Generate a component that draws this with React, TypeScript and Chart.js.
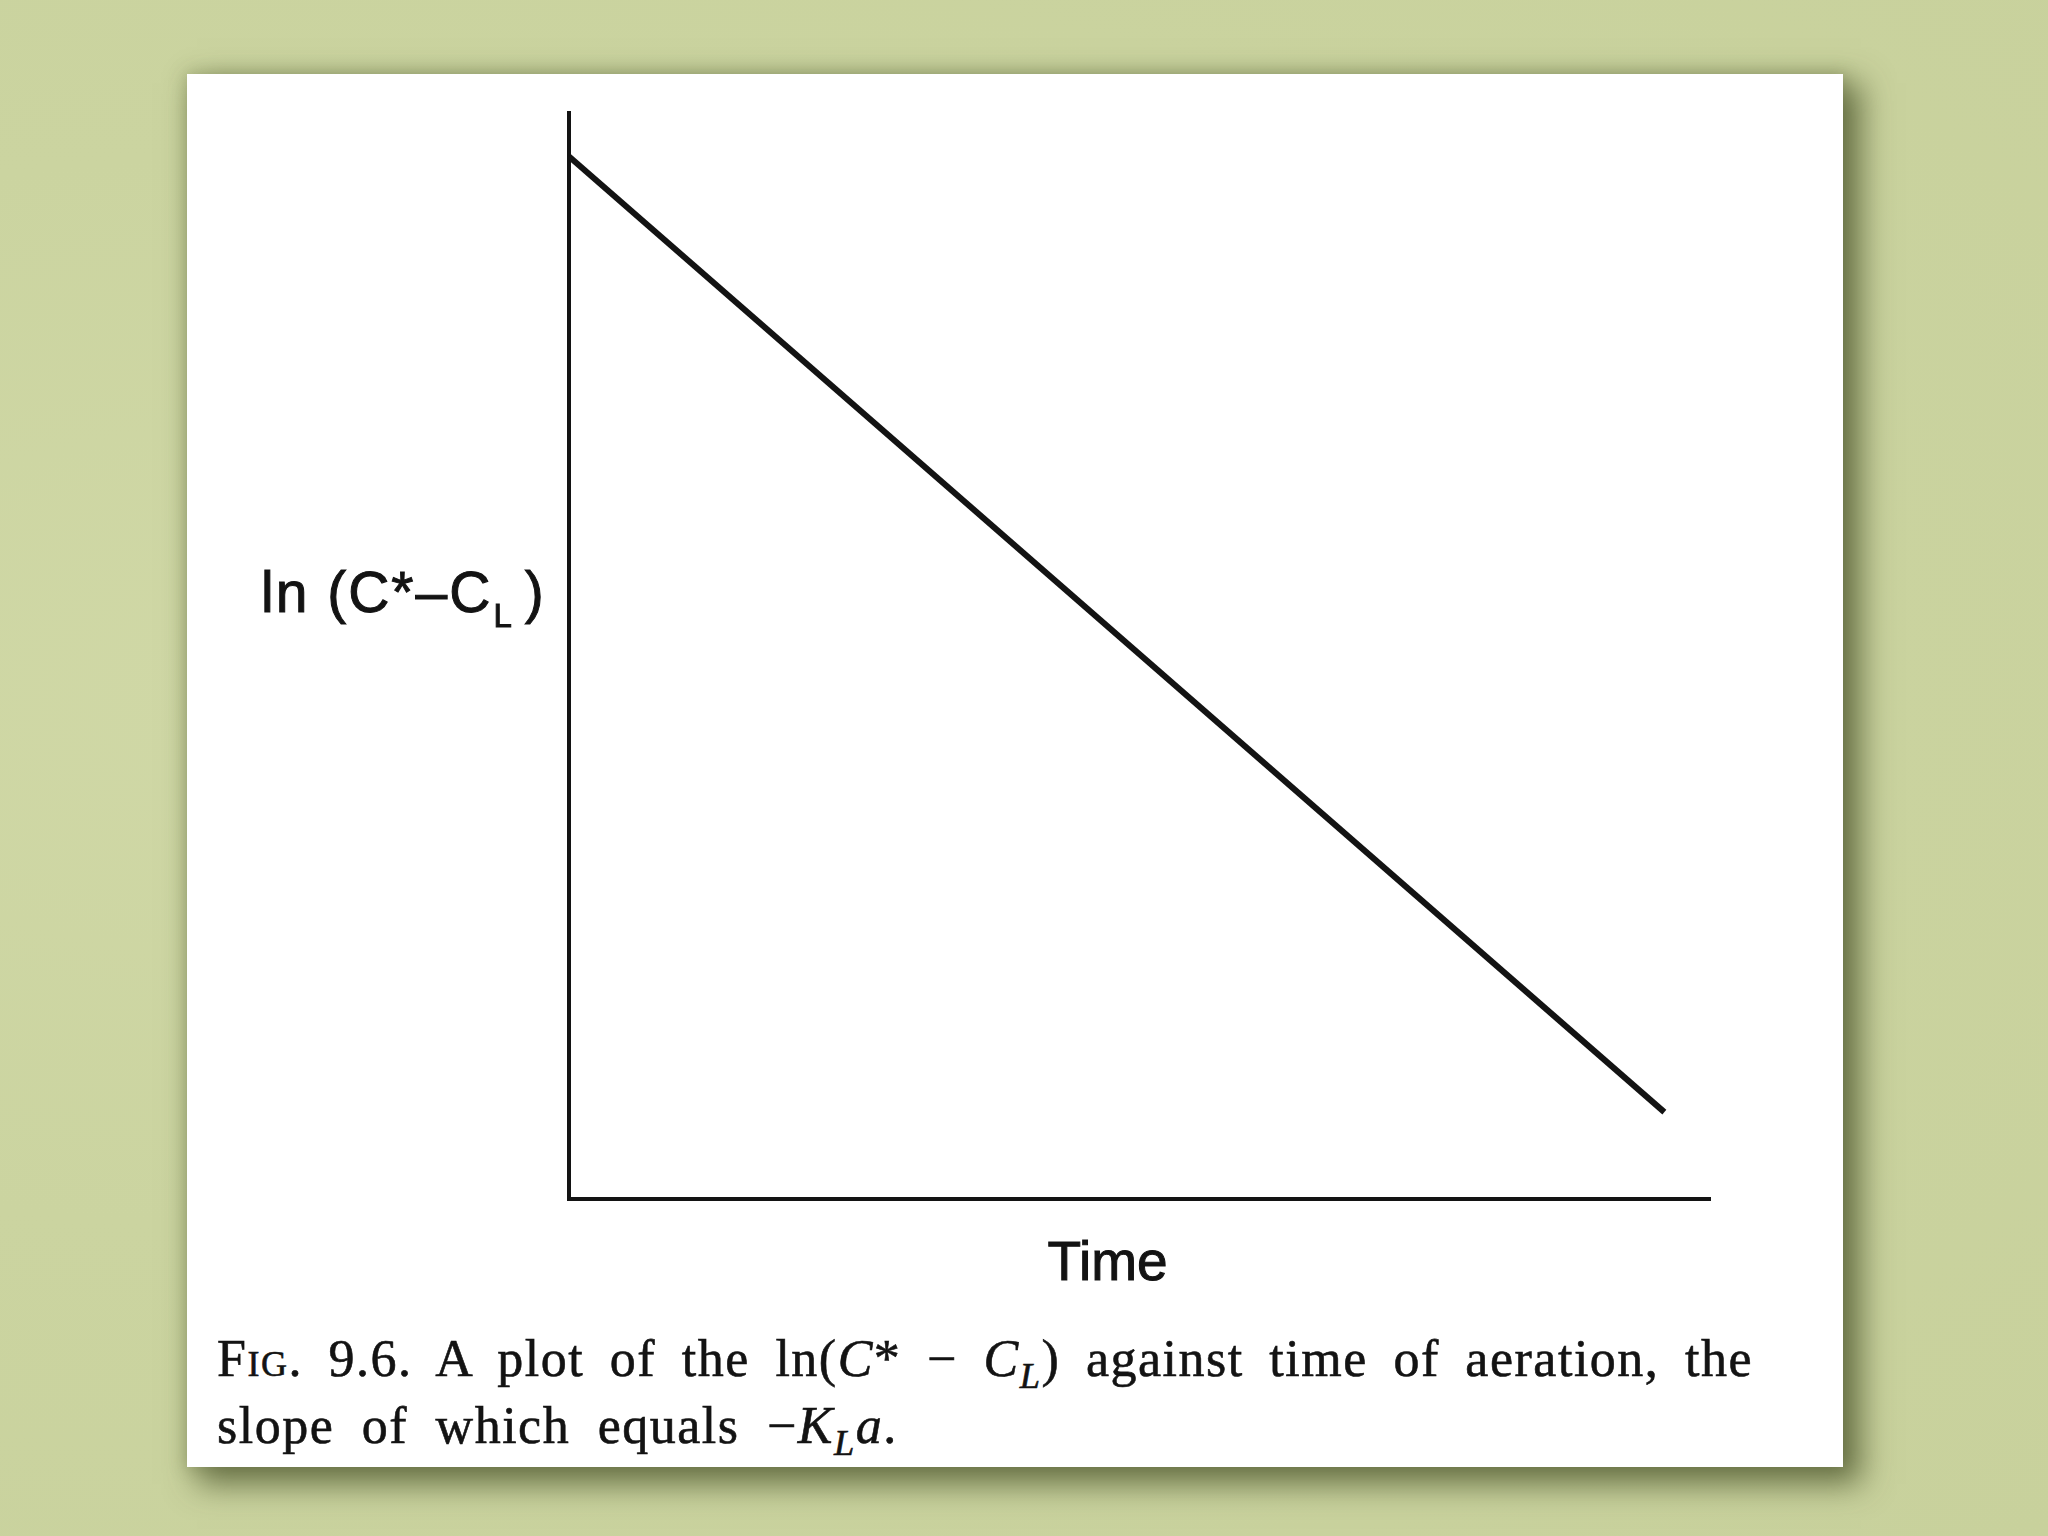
import React, { useEffect, useRef } from "react";
import { Chart, registerables } from "chart.js";

Chart.register(...registerables);

// ---- data ----
const timeValues = [0, 9.6];
const lnValues = [9.6, 0.8];
const xAxisRange = [0, 10];
const yAxisRange = [0, 10];

// ---- text ----
const yLabelMain = "ln (C*–C";
const yLabelSub = "L";
const yLabelEnd = ")";
const xLabel = "Time";

const INK = "#131313";
const SANS = "'Liberation Sans', Arial, Helvetica, sans-serif";
const SERIF = "'Liberation Serif', 'Times New Roman', Times, serif";

const CANVAS_W = 1656;
const CANVAS_H = 1250;

function boldText(ctx: CanvasRenderingContext2D, text: string, x: number, y: number) {
  ctx.fillText(text, x, y);
  ctx.strokeText(text, x, y);
}

const labelsPlugin = {
  id: "figureLabels",
  afterDraw(chart: any) {
    const { ctx, chartArea } = chart;
    ctx.save();
    ctx.fillStyle = INK;
    ctx.strokeStyle = INK;
    ctx.lineWidth = 1;
    ctx.textBaseline = "alphabetic";
    ctx.textAlign = "left";
    const midY = (chartArea.top + chartArea.bottom) / 2;
    const baseY = midY - 44;
    let x = chartArea.left - 308;
    (ctx as any).letterSpacing = "2px";
    ctx.font = `57px ${SANS}`;
    boldText(ctx, yLabelMain, x, baseY);
    x += ctx.measureText(yLabelMain).width + 1;
    (ctx as any).letterSpacing = "0px";
    ctx.font = `33px ${SANS}`;
    boldText(ctx, yLabelSub, x, baseY + 15);
    x += ctx.measureText(yLabelSub).width + 13;
    ctx.font = `57px ${SANS}`;
    boldText(ctx, yLabelEnd, x, baseY);

    ctx.font = `55px ${SANS}`;
    ctx.textAlign = "center";
    boldText(
      ctx,
      xLabel,
      chartArea.left + 0.472 * (chartArea.right - chartArea.left),
      chartArea.bottom + 81
    );
    ctx.restore();
  },
};

function FigureChart() {
  const ref = useRef<HTMLCanvasElement | null>(null);
  useEffect(() => {
    if (!ref.current) return;
    const chart = new Chart(ref.current, {
      type: "scatter",
      data: {
        datasets: [
          {
            data: timeValues.map((t, i) => ({ x: t, y: lnValues[i] })),
            showLine: true,
            borderColor: INK,
            borderWidth: 6,
            pointRadius: 0,
            pointHoverRadius: 0,
            fill: false,
          },
        ],
      },
      options: {
        animation: false,
        responsive: false,
        devicePixelRatio: 1,
        events: [],
        layout: {
          padding: { left: 382, right: CANVAS_W - 1523, top: 39, bottom: CANVAS_H - 1125 },
        },
        plugins: {
          legend: { display: false },
          tooltip: { enabled: false },
          title: { display: false },
        },
        scales: {
          x: {
            type: "linear",
            min: xAxisRange[0],
            max: xAxisRange[1],
            grid: { display: false, drawTicks: false },
            ticks: { display: false },
            border: { display: true, color: INK, width: 4 },
          },
          y: {
            type: "linear",
            min: yAxisRange[0],
            max: yAxisRange[1],
            grid: { display: false, drawTicks: false },
            ticks: { display: false },
            border: { display: true, color: INK, width: 4 },
          },
        },
      },
      plugins: [labelsPlugin],
    });
    return () => chart.destroy();
  }, []);
  return (
    <canvas
      ref={ref}
      width={CANVAS_W}
      height={CANVAS_H}
      style={{ position: "absolute", left: 0, top: 0, width: CANVAS_W, height: CANVAS_H }}
    />
  );
}

const sub: React.CSSProperties = {
  fontSize: "0.7em",
  position: "relative",
  top: "0.32em",
  fontStyle: "italic",
};

export default function App() {
  return (
    <div
      style={{
        position: "absolute",
        left: 0,
        top: 0,
        width: 2048,
        height: 1536,
        overflow: "hidden",
        background:
          "radial-gradient(ellipse at 15% 45%, #d0d8a6 0%, #cbd4a0 45%, #c8d19c 100%)",
      }}
    >
      <div
        style={{
          position: "absolute",
          left: 187,
          top: 74,
          width: 1656,
          height: 1393,
          background: "#ffffff",
          boxShadow:
            "14px 13px 30px 4px rgba(88,98,55,0.85), 0 0 14px 2px rgba(140,150,100,0.45)",
        }}
      >
        <FigureChart />
        <div
          style={{
            position: "absolute",
            left: 30,
            top: 1254,
            width: 1536,
            fontFamily: SERIF,
            fontSize: 52,
            lineHeight: "61px",
            letterSpacing: "1.5px",
            color: INK,
            whiteSpace: "nowrap",
            WebkitTextStroke: "0.6px #131313",
          }}
        >
          <div style={{ textAlign: "justify", textAlignLast: "justify", whiteSpace: "normal" }}>
            F<span style={{ fontVariant: "small-caps" }}>ig</span>. 9.6. A plot of the ln(
            <i>C</i>* − <i>C</i>
            <span style={sub}>L</span>) against time of aeration, the
          </div>
          <div style={{ wordSpacing: "13px" }}>
            slope of which equals −<i>K</i>
            <span style={sub}>L</span>
            <i>a</i>.
          </div>
        </div>
      </div>
    </div>
  );
}
